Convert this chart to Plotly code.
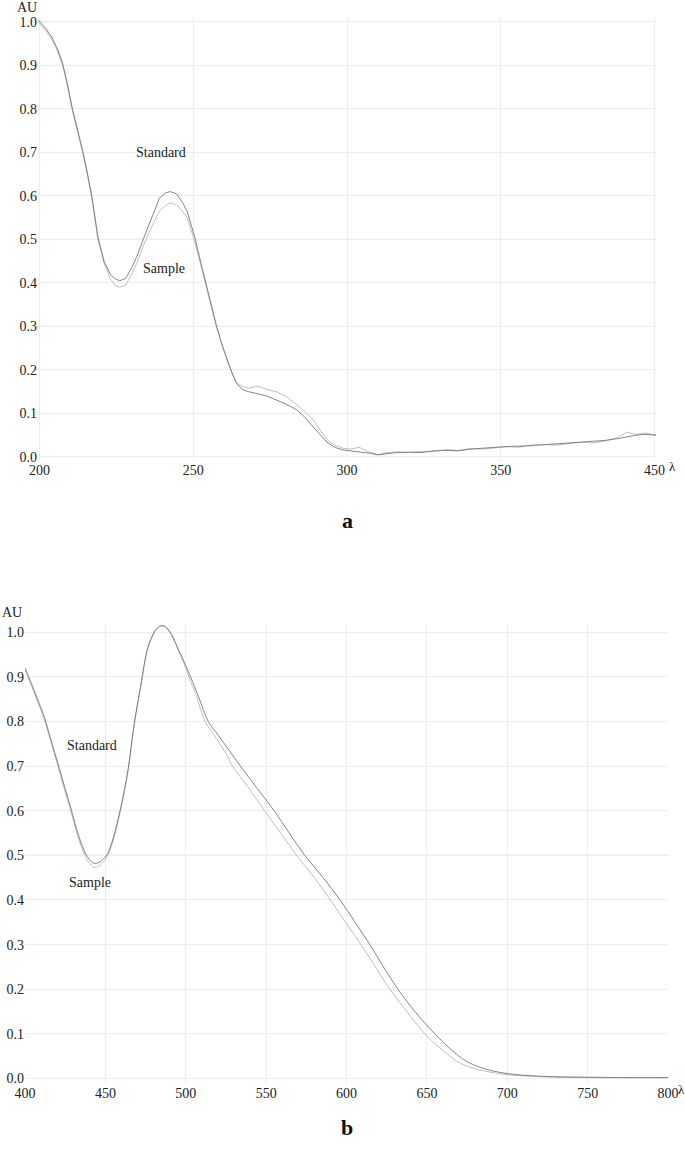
import plotly.graph_objects as go

# panel a: 200-400 nm region (the last tick is printed "450" in the original)
wl_a = [199.5, 202, 204, 206, 207.5, 209, 210.7, 212.5, 214, 215.5, 217, 219, 221, 223,
        224.5, 226, 228, 230, 231.6, 234, 236.5, 239, 241, 242.5, 244.5, 246.5, 248,
        250.5, 252, 253.7, 255.5, 257.6, 259.5, 261, 262.5, 264, 266, 268, 271, 274, 277,
        280, 283.7, 286.5, 289, 291.5, 293.5, 296, 298.7, 301, 304, 307, 310, 313, 316,
        320, 324, 328, 332, 336, 340, 344, 348, 352, 356, 360, 364, 368, 372, 376, 380,
        384, 388, 391, 394, 397, 400.5]
std_a = [1.005, 0.985, 0.965, 0.935, 0.905, 0.86, 0.80, 0.75, 0.705, 0.655, 0.60, 0.505,
         0.45, 0.42, 0.41, 0.405, 0.41, 0.435, 0.46, 0.505, 0.55, 0.595, 0.607, 0.61,
         0.605, 0.585, 0.565, 0.505, 0.46, 0.41, 0.36, 0.30, 0.255, 0.223, 0.195, 0.17,
         0.155, 0.15, 0.145, 0.14, 0.131, 0.122, 0.108, 0.09, 0.069, 0.05, 0.034, 0.022,
         0.016, 0.014, 0.012, 0.009, 0.005, 0.008, 0.01, 0.011, 0.01, 0.014, 0.015, 0.014,
         0.018, 0.02, 0.022, 0.024, 0.023, 0.027, 0.028, 0.03, 0.032, 0.033, 0.036, 0.038,
         0.042, 0.046, 0.05, 0.052, 0.05]
smp_a = [1.0, 0.98, 0.96, 0.93, 0.90, 0.855, 0.795, 0.745, 0.70, 0.65, 0.595, 0.50,
         0.445, 0.41, 0.395, 0.39, 0.395, 0.42, 0.445, 0.49, 0.53, 0.565, 0.578, 0.584,
         0.58, 0.565, 0.55, 0.495, 0.455, 0.405, 0.355, 0.297, 0.253, 0.222, 0.195, 0.172,
         0.162, 0.158, 0.163, 0.155, 0.15, 0.14, 0.12, 0.103, 0.085, 0.06, 0.04, 0.027,
         0.02, 0.018, 0.022, 0.012, 0.005, 0.01, 0.012, 0.01, 0.013, 0.012, 0.017, 0.015,
         0.019, 0.018, 0.021, 0.023, 0.026, 0.025, 0.029, 0.027, 0.031, 0.034, 0.032,
         0.037, 0.045, 0.057, 0.052, 0.055, 0.05]

# panel b: 400-800 nm
wl_b = [400, 404, 408, 412, 416, 420.5, 424.5, 428.6, 432, 435, 438, 441, 443, 446, 449,
        451.5, 455, 459.6, 464, 468, 472, 476, 479, 482, 485.7, 490, 495, 500]
std_b_head = [0.92, 0.885, 0.848, 0.81, 0.76, 0.706, 0.655, 0.605, 0.56, 0.527, 0.502,
              0.487, 0.482, 0.484, 0.493, 0.505, 0.54, 0.608, 0.69, 0.796, 0.88, 0.96,
              0.99, 1.008, 1.015, 1.002, 0.965, 0.925]
smp_b_head = [0.915, 0.88, 0.843, 0.805, 0.755, 0.70, 0.648, 0.598, 0.553, 0.52, 0.494,
              0.478, 0.473, 0.476, 0.487, 0.50, 0.535, 0.603, 0.686, 0.793, 0.878, 0.958,
              0.988, 1.007, 1.014, 1.0, 0.962, 0.92]
wl_std_tail = [503, 508, 514, 520, 527, 534, 544, 555, 564, 574, 585, 596, 605, 614.5,
               623, 632, 643, 655, 665, 674, 684, 695, 705, 716, 730, 750, 775, 800]
std_b_tail = [0.90, 0.855, 0.80, 0.77, 0.735, 0.70, 0.652, 0.60, 0.552, 0.50, 0.452,
              0.40, 0.352, 0.30, 0.25, 0.20, 0.148, 0.10, 0.065, 0.04, 0.024, 0.014,
              0.009, 0.006, 0.004, 0.003, 0.002, 0.002]
wl_smp_tail = [502, 507, 512, 519, 526, 529, 539, 549, 559, 569, 580, 590, 599, 609,
               618, 627, 638, 650, 661, 671, 682, 695, 705, 716, 730, 750, 775, 800]
smp_b_tail = [0.90, 0.853, 0.80, 0.762, 0.722, 0.70, 0.652, 0.60, 0.55, 0.50, 0.45,
              0.40, 0.352, 0.30, 0.25, 0.20, 0.148, 0.095, 0.06, 0.034, 0.02, 0.011,
              0.007, 0.005, 0.003, 0.002, 0.002, 0.002]

ticks_a = [200, 250, 300, 350, 400]
ticktext_a = ["200", "250", "300", "350", "450"]
ticks_b = [400, 450, 500, 550, 600, 650, 700, 750, 800]
ticks_y = [0.0, 0.1, 0.2, 0.3, 0.4, 0.5, 0.6, 0.7, 0.8, 0.9, 1.0]

FONT = "Liberation Serif"
STD_COLOR = "#777777"
SMP_COLOR = "#b8b8b8"
GRID = "#ededed"

W, H = 685, 1150


def px(x):
    return x / W


def py(y):
    return 1 - y / H


fig = go.Figure()
fig.add_trace(go.Scatter(x=wl_a, y=smp_a, mode="lines", line=dict(color=SMP_COLOR, width=0.9),
                         xaxis="x", yaxis="y"))
fig.add_trace(go.Scatter(x=wl_a, y=std_a, mode="lines", line=dict(color=STD_COLOR, width=0.9),
                         xaxis="x", yaxis="y"))
fig.add_trace(go.Scatter(x=wl_b + wl_smp_tail, y=smp_b_head + smp_b_tail, mode="lines",
                         line=dict(color=SMP_COLOR, width=0.9, shape="spline"),
                         xaxis="x2", yaxis="y2"))
fig.add_trace(go.Scatter(x=wl_b + wl_std_tail, y=std_b_head + std_b_tail, mode="lines",
                         line=dict(color=STD_COLOR, width=0.9, shape="spline"),
                         xaxis="x2", yaxis="y2"))

tickfont = dict(family=FONT, size=14, color="#222")
axis_common = dict(showgrid=True, gridcolor=GRID, gridwidth=1, zeroline=False,
                   showline=False, ticks="", tickfont=tickfont, automargin=False)

fig.update_layout(
    width=W, height=H,
    margin=dict(l=0, r=0, t=0, b=0, autoexpand=False),
    paper_bgcolor="white", plot_bgcolor="white",
    showlegend=False,
    font=dict(family=FONT, color="#222"),
    xaxis=dict(domain=[px(38), px(656)], range=[199.5, 400.5], anchor="y",
               tickvals=ticks_a, ticktext=ticktext_a, **axis_common),
    yaxis=dict(domain=[py(460), py(18)], range=[-0.007, 1.009], anchor="x",
               tickvals=ticks_y, tickformat=".1f", **axis_common),
    xaxis2=dict(domain=[px(25), px(668)], range=[400, 800], anchor="y2",
                tickvals=ticks_b, **axis_common),
    yaxis2=dict(domain=[py(1083), py(625)], range=[-0.01, 1.016], anchor="x2",
                tickvals=ticks_y, tickformat=".1f", **axis_common),
)

# darker 0.5 reference line in both panels
for xr, yr in (("x", "y"), ("x2", "y2")):
    fig.add_shape(type="line", xref=f"{xr} domain", yref=yr, x0=0, x1=1, y0=0.5, y1=0.5,
                  line=dict(color="#c8c8c8", width=1), layer="below")

lab = dict(family=FONT, size=14, color="#222")
mid = dict(showarrow=False, font=lab, xanchor="center", yanchor="middle")
fig.add_annotation(x=239.6, y=0.70, xref="x", yref="y", text="Standard", **mid)
fig.add_annotation(x=240.6, y=0.434, xref="x", yref="y", text="Sample", **mid)
fig.add_annotation(x=441.7, y=0.747, xref="x2", yref="y2", text="Standard", **mid)
fig.add_annotation(x=440.4, y=0.44, xref="x2", yref="y2", text="Sample", **mid)

fig.add_annotation(x=px(27), y=py(8), xref="paper", yref="paper", text="AU", **mid)
fig.add_annotation(x=px(12), y=py(612), xref="paper", yref="paper", text="AU", **mid)
fig.add_annotation(x=px(672), y=py(467), xref="paper", yref="paper", text="λ",
                   showarrow=False, font=dict(family=FONT, size=13, color="#222"),
                   xanchor="center", yanchor="middle")
fig.add_annotation(x=px(681), y=py(1089), xref="paper", yref="paper", text="λ",
                   showarrow=False, font=dict(family=FONT, size=13, color="#222"),
                   xanchor="center", yanchor="middle")

big = dict(family=FONT, size=22, color="#111")
fig.add_annotation(x=px(347), y=py(520), xref="paper", yref="paper", text="<b>a</b>",
                   showarrow=False, font=big, yanchor="middle")
fig.add_annotation(x=px(347), y=py(1127), xref="paper", yref="paper", text="<b>b</b>",
                   showarrow=False, font=big, yanchor="middle")

# drop the browser's default 8px body margin so the figure fills the window
fig.write_html("out.html", config={"displayModeBar": False},
               post_script="document.body.style.margin = '0px';")
